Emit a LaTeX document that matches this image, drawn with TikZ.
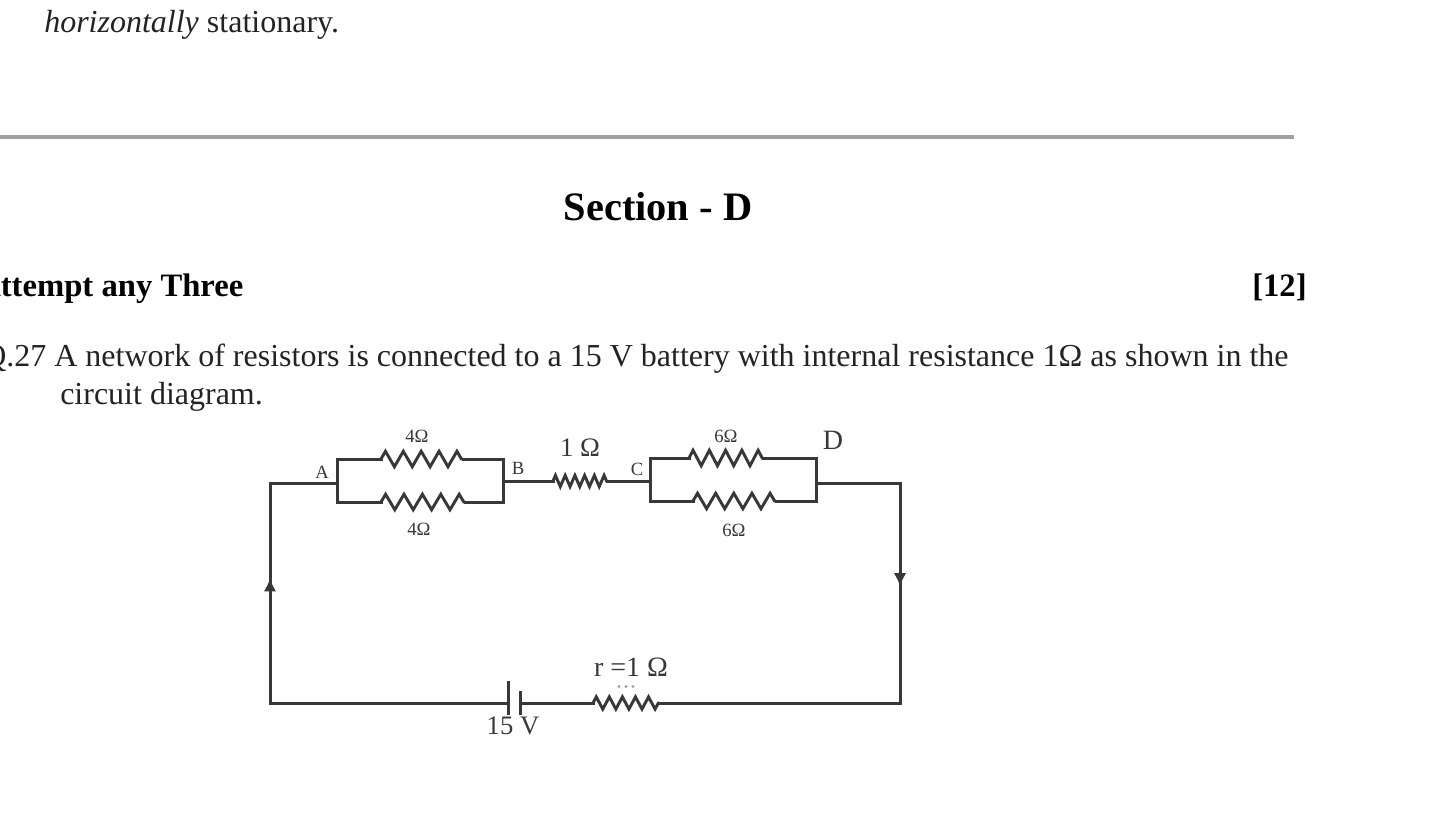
\documentclass[tikz,border=0pt]{standalone}
\usepackage{fontspec}
\setmainfont{Liberation Serif}
\usetikzlibrary{decorations.pathmorphing,decorations.markings,arrows.meta}
\definecolor{wirecolor}{RGB}{56,56,56}
\definecolor{rulecolor}{RGB}{160,160,160}
\definecolor{inkcolor}{RGB}{35,35,35}
\tikzset{
  wire/.style={draw=wirecolor,line width=2.25pt,line join=miter,line cap=rect},
  resistor/.style 2 args={draw=wirecolor,line width=2.2pt,line join=miter,decorate,decoration={zigzag,amplitude=#1,segment length=#2}},
  bodytext/.style={font=\fontsize{24}{28}\selectfont,text=inkcolor,inner sep=0pt,anchor=base west},
  boldtext/.style={font=\fontsize{24.5}{28}\selectfont\bfseries,text=black,inner sep=0pt,anchor=base west},
  complabel/.style={font=\fontsize{14}{16}\selectfont,text=wirecolor,inner sep=0pt},
  biglabel/.style={font=\fontsize{20}{22}\selectfont,text=wirecolor,inner sep=0pt},
  flowmark/.style={postaction={decorate,decoration={markings,mark=at position #1 with {\arrow{Latex[length=10pt,width=9.5pt]}}}}}
}

\begin{document}
\begin{tikzpicture}[x=0.75pt,y=0.75pt,yscale=-1,xscale=1]
\useasboundingbox (0,0) rectangle (1436,825);

%Text above the rule
\node[bodytext] (prev) at (44,32) {\textit{horizontally} stationary.};
%Rule
\coordinate (ruleL) at (0,137);
\coordinate (ruleR) at (1294,137);
\draw[draw=rulecolor,line width=2.6pt] (ruleL) -- (ruleR);

% Text Node
\node[font=\fontsize{30.3}{32}\selectfont\bfseries,inner sep=0pt] (section) at (658,207) {Section - D};
\node[boldtext] (attempt) at (-23,296) {Attempt any Three};
\node[boldtext] (marks) at (1252,296) {[12]};
\node[bodytext] (qone) at (-17,366) {Q.27 A network of resistors is connected to a 15 V battery with internal resistance 1Ω as shown in the};
\node[bodytext] (qtwo) at (60,404) {circuit diagram.};

%Corners of the network
\coordinate (topL) at (270,483);
\coordinate (botL) at (270,703);
\coordinate (topR) at (900,483);
\coordinate (botR) at (900,703);
\coordinate (A) at (337,483);
\coordinate (Atop) at (337,459);
\coordinate (Abot) at (337,502);
\coordinate (B) at (503,481);
\coordinate (Btop) at (503,459);
\coordinate (Bbot) at (503,502);
\coordinate (C) at (650,481);
\coordinate (Ctop) at (650,458);
\coordinate (Cbot) at (650,501);
\coordinate (D) at (816,483);
\coordinate (Dtop) at (816,458);
\coordinate (Dbot) at (816,501);

%Resistor ends
\coordinate (rabL) at (381,459);
\coordinate (rabR) at (463,459);
\coordinate (sabL) at (381,502);
\coordinate (sabR) at (465,502);
\coordinate (rbcL) at (553,481);
\coordinate (rbcR) at (607,481);
\coordinate (rcdL) at (689,458);
\coordinate (rcdR) at (763,458);
\coordinate (scdL) at (693,501);
\coordinate (scdR) at (776,501);
\coordinate (rintL) at (593,703);
\coordinate (rintR) at (659,703);

%Battery plates
\coordinate (longT) at (508,682);
\coordinate (longM) at (508,703);
\coordinate (longB) at (508,713);
\coordinate (shortT) at (520,692);
\coordinate (shortM) at (520,703);
\coordinate (shortB) at (520,713);

%Straight Lines
\draw[wire] (Atop) -- (rabL);
\draw[wire] (rabR) -- (Btop) -- (Bbot) -- (sabR);
\draw[wire] (sabL) -- (Abot) -- (Atop);
\draw[wire] (B) -- (rbcL);
\draw[wire] (rbcR) -- (C);
\draw[wire] (Ctop) -- (rcdL);
\draw[wire] (rcdR) -- (Dtop) -- (Dbot) -- (scdR);
\draw[wire] (scdL) -- (Cbot) -- (Ctop);
\draw[wire,flowmark=0.435] (botL) -- (topL) -- (A);
\draw[wire,flowmark=0.344] (D) -- (topR) -- (botR) -- (rintR);
\draw[wire] (rintL) -- (shortM);
\draw[wire] (longM) -- (botL);
\draw[wire] (longT) -- (longB);
\draw[wire] (shortT) -- (shortB);

%Resistors
\draw[resistor={5.8pt}{13.4pt}] (rabL) -- (rabR);
\draw[resistor={5.8pt}{13.8pt}] (sabL) -- (sabR);
\draw[resistor={5.8pt}{12.2pt}] (rcdL) -- (rcdR);
\draw[resistor={5.8pt}{13.6pt}] (scdL) -- (scdR);
\draw[resistor={4.2pt}{7.3pt}] (rbcL) -- (rbcR);
\draw[resistor={4.6pt}{9.8pt}] (rintL) -- (rintR);

% Text Node
\node[complabel] (ra) at (417,436) {4Ω};
\node[complabel] (rb) at (419,529) {4Ω};
\node[complabel] (rc) at (726,436) {6Ω};
\node[complabel] (rd) at (734,530) {6Ω};
\node[complabel] (la) at (322,472) {A};
\node[complabel] (lb) at (518,468) {B};
\node[complabel] (lc) at (637,469) {C};
\node[biglabel,font=\fontsize{21}{22}\selectfont] (ld) at (833,440) {D};
\node[biglabel] (re) at (580,448) {1 Ω};
\node[biglabel,font=\fontsize{21}{22}\selectfont] (rint) at (631,667) {r =1 Ω};
\node[biglabel] (volt) at (513,726) {15 V};

%Specks over the internal resistor
\foreach \x in {619,626,633}
  \fill[rulecolor] (\x,686.5) circle (1.2pt);

\end{tikzpicture}
\end{document}
